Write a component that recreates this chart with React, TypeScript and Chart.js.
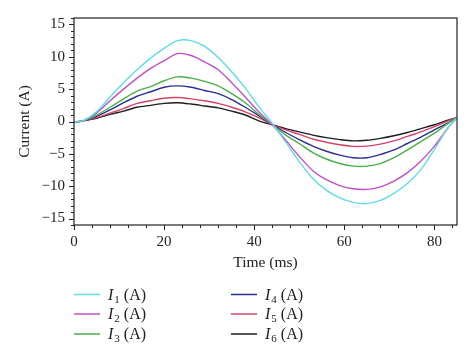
import React, { useEffect, useRef } from "react";
import { Chart, registerables } from "chart.js";

Chart.register(...registerables);

const times = [0, 2, 5, 8, 11, 14, 17, 20, 23, 26, 29, 32, 35, 38, 41, 44, 47, 50, 53, 56, 59, 62, 65, 68, 71, 74, 77, 80, 83, 85];

const i1 = [-0.1, 0.1, 1.5, 3.8, 6.0, 8.0, 9.8, 11.3, 12.5, 12.5, 11.6, 9.9, 7.7, 5.2, 2.3, -0.3, -3.2, -6.2, -8.8, -10.6, -11.8, -12.5, -12.7, -12.2, -11.1, -9.6, -7.4, -4.3, -1.0, 0.6];
const i2 = [-0.1, 0.1, 1.3, 3.2, 5.0, 6.7, 8.2, 9.4, 10.5, 10.2, 9.2, 8.0, 6.0, 3.8, 1.5, -0.5, -2.9, -5.4, -7.6, -9.0, -9.9, -10.4, -10.5, -10.1, -9.2, -7.9, -6.1, -3.8, -1.0, 0.6];
const i3 = [-0.1, 0.1, 1.0, 2.2, 3.5, 4.7, 5.4, 6.3, 6.9, 6.7, 6.2, 5.5, 4.3, 2.9, 1.1, -0.5, -2.1, -3.4, -4.8, -5.8, -6.5, -6.9, -6.9, -6.5, -5.6, -4.4, -3.1, -1.8, -0.3, 0.6];
const i4 = [-0.1, 0.1, 0.8, 1.8, 2.9, 3.9, 4.6, 5.3, 5.5, 5.3, 4.8, 4.3, 3.4, 2.2, 0.9, -0.5, -1.7, -2.8, -3.8, -4.6, -5.2, -5.6, -5.6, -5.1, -4.4, -3.4, -2.4, -1.3, -0.2, 0.6];
const i5 = [-0.1, 0.1, 0.6, 1.3, 2.0, 2.8, 3.2, 3.6, 3.7, 3.5, 3.2, 2.8, 2.2, 1.5, 0.6, -0.5, -1.3, -2.0, -2.7, -3.2, -3.6, -3.85, -3.8, -3.5, -3.0, -2.3, -1.6, -0.8, 0.1, 0.6];
const i6 = [-0.1, 0.1, 0.5, 1.1, 1.6, 2.2, 2.5, 2.8, 2.9, 2.7, 2.4, 2.1, 1.6, 1.0, 0.1, -0.5, -1.1, -1.6, -2.1, -2.5, -2.8, -3.0, -2.9, -2.6, -2.2, -1.7, -1.1, -0.5, 0.2, 0.6];

const seriesValues = [i1, i2, i3, i4, i5, i6];
const seriesSubscripts = ["1", "2", "3", "4", "5", "6"];
const seriesColors = ["#5fdde6", "#c24fc6", "#49b04a", "#2b2f8f", "#d4456a", "#1e1e1e"];

const xTicks = [0, 20, 40, 60, 80];
const yTicks = [-15, -10, -5, 0, 5, 10, 15];
const xMinorStep = 4;
const yMinorStep = 1;

const FONT = "'Liberation Serif', 'DejaVu Serif', serif";

const framePlugin = {
  id: "frameAndLegend",
  afterDraw(chart: any) {
    const { ctx, chartArea } = chart;
    const xs = chart.scales.x;
    const ys = chart.scales.y;
    ctx.save();
    ctx.strokeStyle = "#222";
    ctx.lineWidth = 1.2;
    ctx.strokeRect(chartArea.left, chartArea.top, chartArea.right - chartArea.left, chartArea.bottom - chartArea.top);
    ctx.lineWidth = 1;
    ctx.beginPath();
    for (let v = xs.min; v <= xs.max + 1e-9; v += xMinorStep) {
      const px = Math.round(xs.getPixelForValue(v)) + 0.5;
      const len = xTicks.includes(v) ? 5 : 3;
      ctx.moveTo(px, chartArea.bottom);
      ctx.lineTo(px, chartArea.bottom + len);
    }
    for (let v = Math.ceil(ys.min); v <= ys.max + 1e-9; v += yMinorStep) {
      const py = Math.round(ys.getPixelForValue(v)) + 0.5;
      const len = yTicks.includes(v) ? 5 : 3;
      ctx.moveTo(chartArea.left, py);
      ctx.lineTo(chartArea.left - len, py);
    }
    ctx.stroke();

    // legend
    const cols = [74, 231];
    const rows = [294.5, 314, 334];
    chart.data.datasets.forEach((ds: any, i: number) => {
      const x0 = cols[Math.floor(i / 3)];
      const y0 = rows[i % 3];
      ctx.strokeStyle = ds.borderColor;
      ctx.lineWidth = 1.5;
      ctx.beginPath();
      ctx.moveTo(x0, y0);
      ctx.lineTo(x0 + 26, y0);
      ctx.stroke();
      ctx.fillStyle = "#222";
      ctx.textBaseline = "alphabetic";
      ctx.textAlign = "left";
      let tx = x0 + 34;
      const base = y0 + 5;
      ctx.font = `italic 16px ${FONT}`;
      ctx.fillText("I", tx, base);
      tx += ctx.measureText("I").width + 1;
      ctx.font = `11px ${FONT}`;
      ctx.fillText(seriesSubscripts[i], tx, base + 3);
      tx += ctx.measureText(seriesSubscripts[i]).width;
      ctx.font = `16px ${FONT}`;
      ctx.fillText(" (A)", tx, base);
    });
    ctx.restore();
  },
};

export default function App() {
  const ref = useRef<HTMLCanvasElement | null>(null);
  useEffect(() => {
    document.body.style.margin = "0";
    if (!ref.current) return;
    const chart = new Chart(ref.current, {
      type: "line",
      data: {
        datasets: seriesValues.map((vals, i) => ({
          label: `I${seriesSubscripts[i]} (A)`,
          data: times.map((t, k) => ({ x: t, y: vals[k] })),
          borderColor: seriesColors[i],
          backgroundColor: seriesColors[i],
          borderWidth: 1.4,
          pointRadius: 0,
          tension: 0.3,
          fill: false,
        })),
      },
      options: {
        responsive: false,
        animation: false,
        layout: { padding: { left: 0, right: 17, top: 17, bottom: 84 } },
        plugins: { legend: { display: false }, tooltip: { enabled: false } },
        scales: {
          x: {
            type: "linear",
            min: 0,
            max: 85,
            grid: { display: false, drawTicks: false },
            border: { display: false },
            afterBuildTicks: (s: any) => {
              s.ticks = xTicks.map((v) => ({ value: v }));
            },
            afterFit: (s: any) => {
              s.height = 48;
            },
            ticks: {
              autoSkip: false,
              maxRotation: 0,
              padding: 8,
              color: "#222",
              font: { family: FONT, size: 15 },
            },
            title: {
              display: true,
              text: "Time (ms)",
              color: "#222",
              font: { family: FONT, size: 15.5 },
              padding: { top: 0, bottom: 1 },
            },
          },
          y: {
            type: "linear",
            min: -16,
            max: 16,
            grid: { display: false, drawTicks: false },
            border: { display: false },
            afterBuildTicks: (s: any) => {
              s.ticks = yTicks.map((v) => ({ value: v }));
            },
            afterFit: (s: any) => {
              s.width = 74;
            },
            ticks: {
              autoSkip: false,
              padding: 9,
              color: "#222",
              font: { family: FONT, size: 15 },
              callback: (v: any) => (v < 0 ? "\u2212" + Math.abs(v) : String(v)),
            },
            title: {
              display: true,
              text: "Current (A)",
              color: "#222",
              font: { family: FONT, size: 15.5 },
              padding: { top: 16, bottom: 0 },
            },
          },
        },
      },
      plugins: [framePlugin],
    });
    return () => chart.destroy();
  }, []);
  return (
    <div style={{ width: 474, height: 357, background: "#fff" }}>
      <canvas ref={ref} width={474} height={357} style={{ display: "block" }} />
    </div>
  );
}
